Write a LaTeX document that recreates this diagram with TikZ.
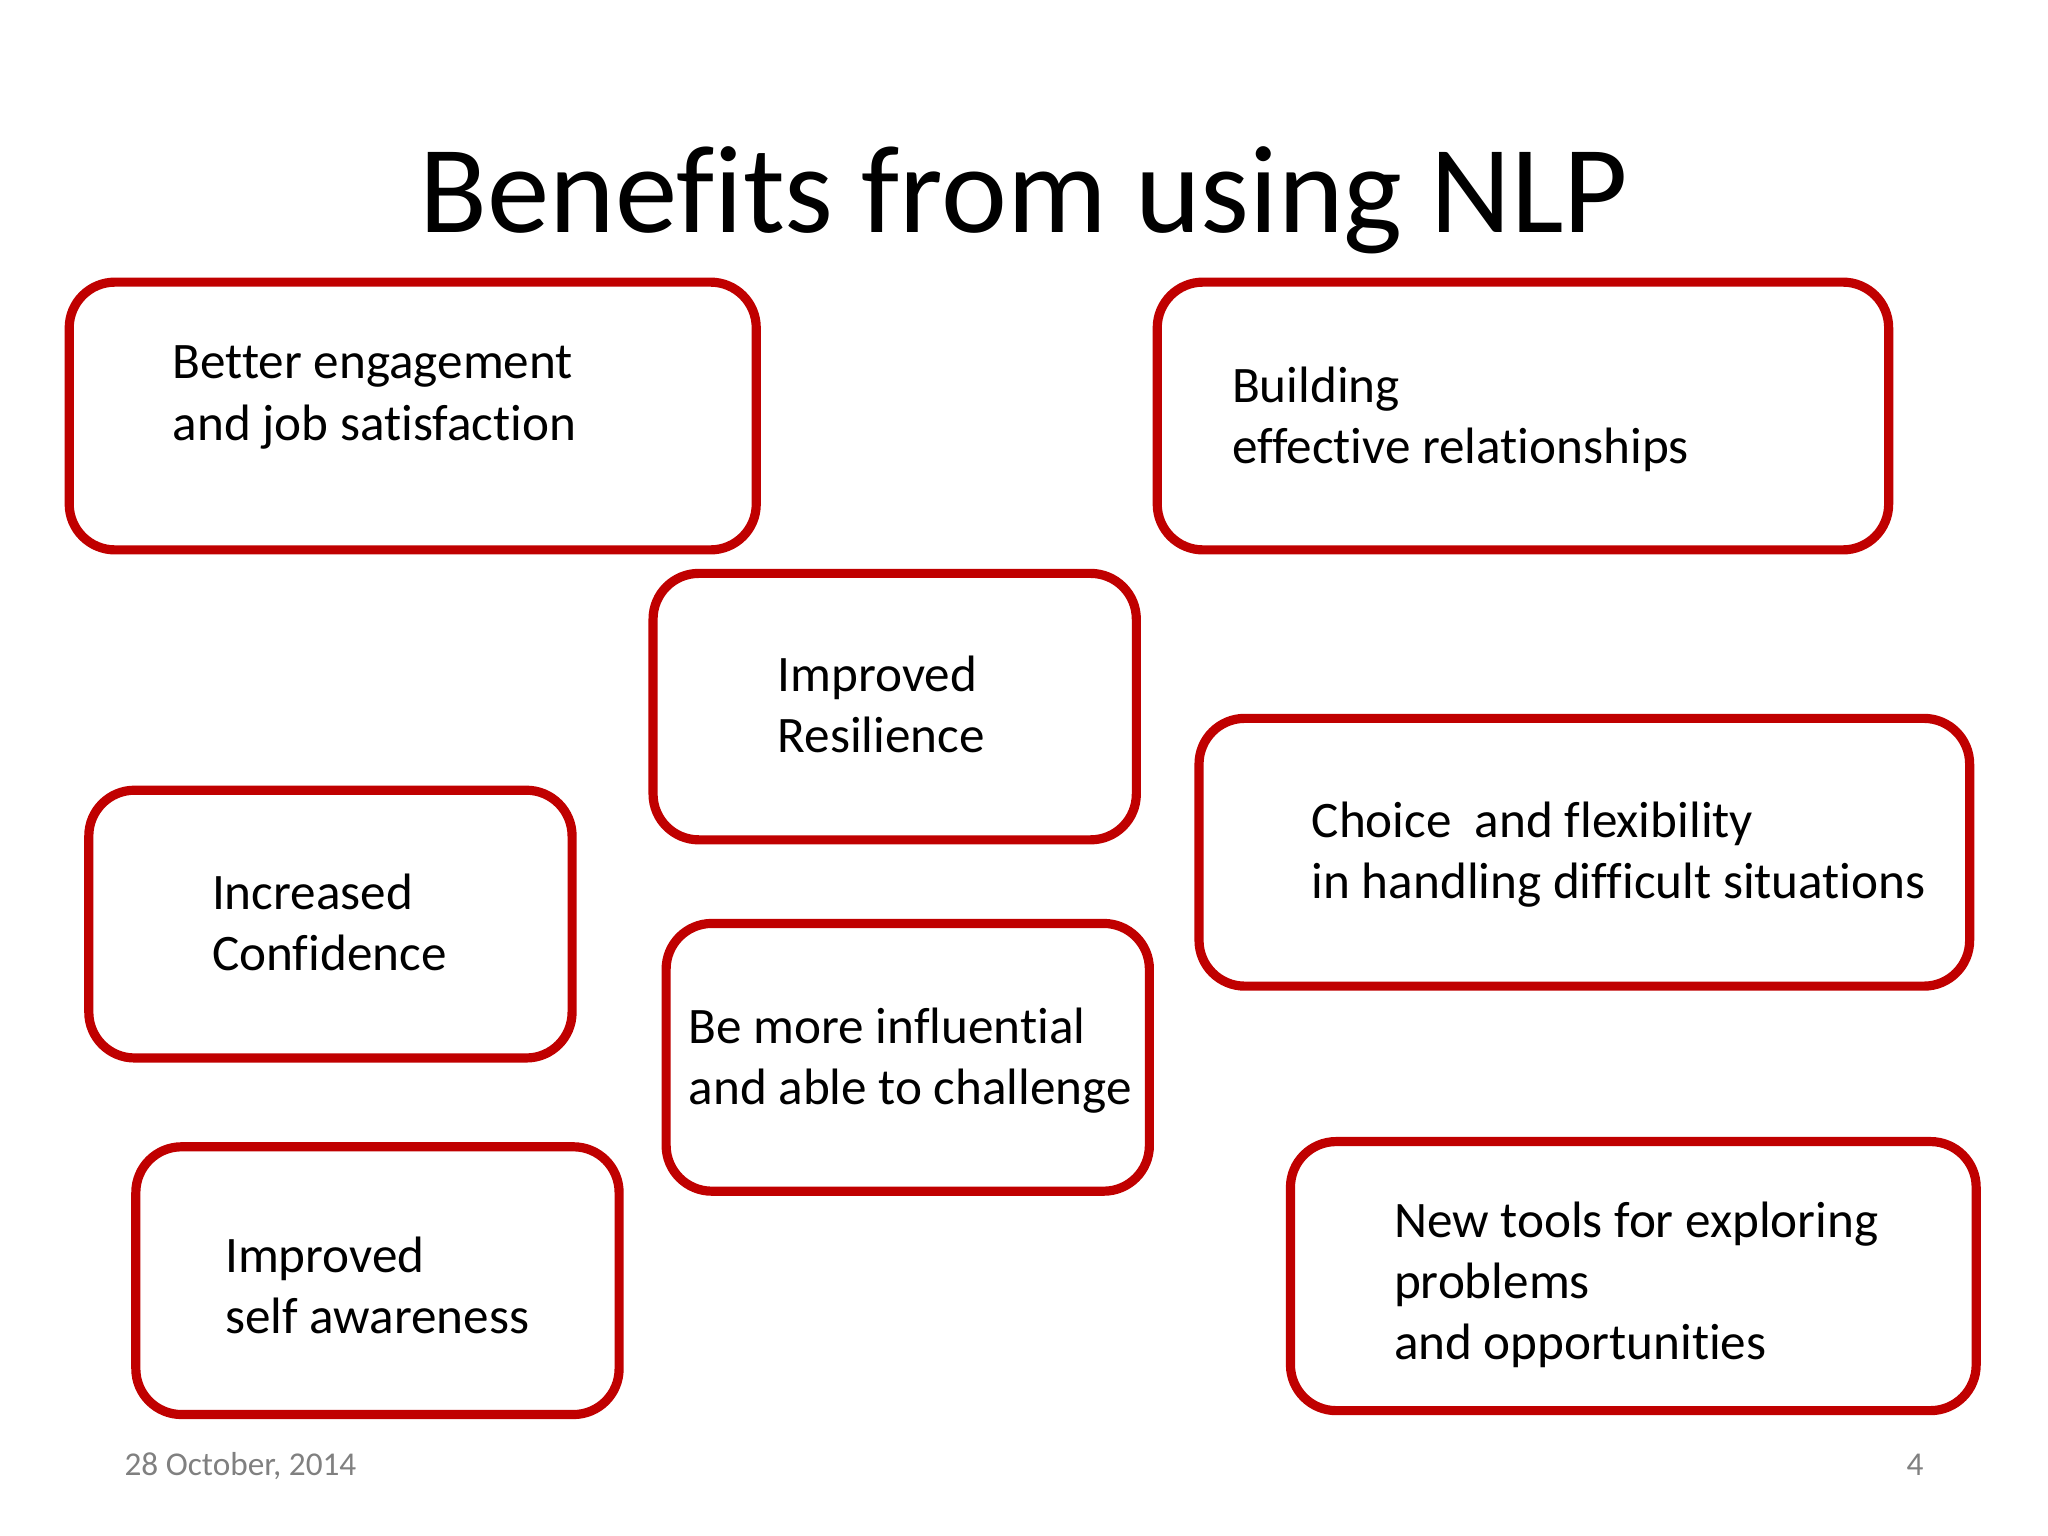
\documentclass[tikz,border=0pt]{standalone}
\usepackage{fontspec}
\setmainfont[Ligatures=NoCommon]{Carlito}
\definecolor{boxred}{HTML}{C00000}
\begin{document}
\begin{tikzpicture}[x=0.02cm,y=-0.02cm,
  benefit/.style={draw=boxred,line width=4pt,rounded corners=0.7cm,fill=white},
  btext/.style={anchor=base west,align=left,inner sep=0pt,font=\fontsize{22.3}{26.7}\selectfont},
  foot/.style={text=gray,font=\fontsize{14.5}{17}\selectfont,inner sep=0pt}]
\useasboundingbox (0,0) rectangle (1568,1176);
\node[anchor=base,inner sep=0pt,font=\fontsize{54.4}{60}\selectfont] (title) at (784,178) {Benefits from using NLP};
\draw[benefit] (53,216) rectangle (579,421);
\node[btext] (t1) at (132,337) {Better engagement\\and job satisfaction};
\draw[benefit] (886,216) rectangle (1446,421);
\node[btext] (t2) at (943,355) {Building\\effective relationships};
\draw[benefit] (500,439) rectangle (870,643);
\node[btext] (t3) at (595,576) {Improved\\Resilience};
\draw[benefit] (918,550) rectangle (1508,755);
\node[btext] (t4) at (1004,688) {Choice~ and flexibility\\in handling difficult situations};
\draw[benefit] (68,605) rectangle (438,810);
\node[btext] (t5) at (162,743) {Increased\\Confidence};
\draw[benefit] (510,707) rectangle (880,912);
\node[btext] (t6) at (527,846) {Be more influential\\and able to challenge};
\draw[benefit] (104,878) rectangle (474,1083);
\node[btext] (t7) at (172,1021) {Improved\\self awareness};
\draw[benefit] (988,874) rectangle (1513,1080);
\node[btext] (t8) at (1067,1041) {New tools for exploring\\problems\\and opportunities};
\node[foot,anchor=base west] (date) at (95,1130) {28 October, 2014};
\node[foot,anchor=base east] (page) at (1473,1130) {4};
\end{tikzpicture}
\end{document}
